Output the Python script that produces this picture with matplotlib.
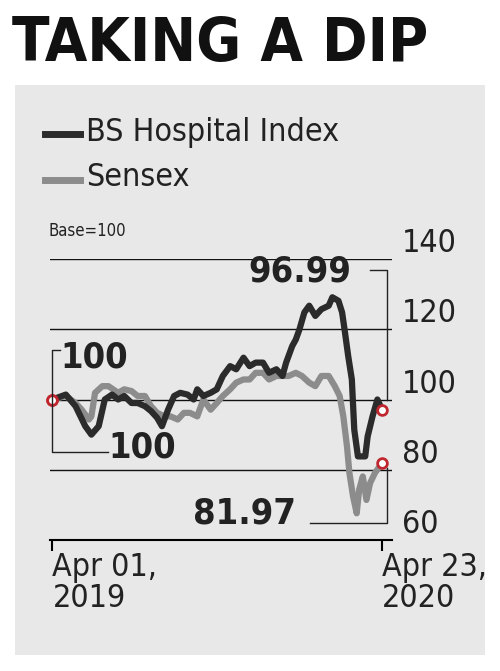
import matplotlib
matplotlib.use("Agg")
import matplotlib.pyplot as plt
from matplotlib.lines import Line2D
from matplotlib.patches import Rectangle

hosp_days = [0,11,19,27,32,38,43,49,54,59,65,70,76,81,86,90,95,100,105,111,116,119,124,130,135,140,146,151,157,162,167,173,178,184,189,192,197,200,203,207,211,216,221,227,230,235,238,240,243,246,248,251,257,259,263,267,271]
hosp_vals = [100.0,101.4,98.1,92.4,90.0,92.4,100.0,101.4,100.0,101.0,99.0,99.0,98.1,96.7,94.8,92.4,97.1,101.0,101.9,101.4,100.0,102.9,101.0,101.9,102.9,106.7,109.5,108.6,111.9,109.5,110.5,110.5,107.6,108.6,106.7,110.5,115.2,117.1,120.0,124.8,126.7,123.8,125.7,126.7,129.1,128.1,124.8,120.0,112.4,105.7,91.4,83.8,83.8,89.5,95.2,100.0,96.99]
sensex_days = [0,11,19,24,30,32,35,41,46,54,59,65,70,76,81,86,92,97,103,108,113,119,124,130,135,140,146,151,157,162,167,173,178,184,189,194,200,205,211,216,221,227,232,236,239,242,244,247,250,252,255,258,261,265,271]
sensex_vals = [100.0,101.0,99.0,97.1,94.3,95.2,101.9,103.8,103.8,101.9,102.9,102.4,101.0,101.0,98.1,96.2,95.2,95.2,94.3,96.2,96.2,95.2,100.0,97.1,99.0,101.0,102.9,104.8,105.7,105.7,107.6,107.6,105.7,106.7,106.7,106.7,107.6,106.7,104.8,103.8,106.7,106.7,103.8,101.0,95.2,86.7,79.1,72.4,67.6,74.3,78.1,71.4,76.2,79.1,81.97]
yticks = [60, 80, 100, 120, 140]
xtick_days = [0, 271]
xtick_labels = ["Apr 01,\n2019", "Apr 23,\n2020"]

FAM = "DejaVu Sans"
ST = "condensed"
W, H = 500, 671
fig = plt.figure(figsize=(5, 6.71), dpi=100)
def fx(px): return px / W
def fy(py): return 1 - py / H

fig.patches.append(Rectangle((fx(15), fy(655)), fx(470), (655-85)/H, transform=fig.transFigure,
                             facecolor="#e8e8e8", edgecolor="none", zorder=-10))
fig.text(fx(12), fy(44), "TAKING A DIP", fontsize=44, fontweight="bold", family=FAM, fontstretch=ST,
         va="center", ha="left", color="#111111")

fig.add_artist(Line2D([fx(45), fx(80)], [fy(134), fy(134)], color="#2b2b2b", lw=5, transform=fig.transFigure))
fig.text(fx(86), fy(132), "BS Hospital Index", fontsize=23, family=FAM, fontstretch=ST, va="center", color="#222")
fig.add_artist(Line2D([fx(45), fx(80)], [fy(180), fy(180)], color="#8c8c8c", lw=5, transform=fig.transFigure))
fig.text(fx(86), fy(178), "Sensex", fontsize=23, family=FAM, fontstretch=ST, va="center", color="#222")
fig.text(fx(48), fy(231), "Base=100", fontsize=12, family=FAM, fontstretch=ST, va="center", color="#222")

ax = fig.add_axes([fx(50), fy(540), fx(392)-fx(50), (540-259)/H])
ax.set_facecolor("none")
ax.set_xlim(-2, 279)
ax.set_ylim(60, 140)
for v in yticks[1:]:
    ax.axhline(v, color="#111", lw=1.0, zorder=1)
for s in ax.spines.values():
    s.set_visible(False)
ax.spines["bottom"].set_visible(True)
ax.spines["bottom"].set_linewidth(1.5)
ax.set_yticks([])
ax.set_xticks(xtick_days)
ax.set_xticklabels([])
ax.tick_params(axis="x", length=8, width=1.5, direction="out")
for d, lab in zip(xtick_days, xtick_labels):
    ax.text(d, 56.5, lab, ha="left", va="top", fontsize=23, family=FAM, fontstretch=ST, color="#222",
            linespacing=1.0, transform=ax.transData, clip_on=False)
for v in yticks:
    ax.text(1.03, (v - 60) / 80 + 0.055, str(v), transform=ax.transAxes, ha="left", va="center",
            fontsize=23, family=FAM, fontstretch=ST, color="#222")

ax.plot(sensex_days, sensex_vals, color="#8c8c8c", lw=4.5, zorder=3, solid_capstyle="round")
ax.plot(hosp_days, hosp_vals, color="#2b2b2b", lw=4.5, zorder=4, solid_capstyle="round")
for xs, ys in [(hosp_days, hosp_vals), (sensex_days, sensex_vals)]:
    ax.plot([xs[0]], [ys[0]], "o", ms=7, mfc="white", mec="#c0262d", mew=2, zorder=6, clip_on=False)
    ax.plot([xs[-1]], [ys[-1]], "o", ms=7, mfc="white", mec="#c0262d", mew=2, zorder=6, clip_on=False)

def fline(xs, ys):
    fig.add_artist(Line2D([fx(x) for x in xs], [fy(y) for y in ys], color="#222", lw=1, transform=fig.transFigure))
kw = dict(fontsize=26, fontweight="bold", family=FAM, fontstretch=ST, va="center", color="#222")
fig.text(fx(60), fy(357), "100", **kw)
fig.text(fx(108), fy(447), "100", **kw)
fline([60, 52, 52, 108], [350, 350, 452, 452])
fig.text(fx(248), fy(272), "96.99", **kw)
fline([370, 387, 387], [270, 270, 400])
fig.text(fx(193), fy(513), "81.97", **kw)
fline([310, 387, 387], [523, 523, 468])

fig.savefig("out.png", dpi=100)
